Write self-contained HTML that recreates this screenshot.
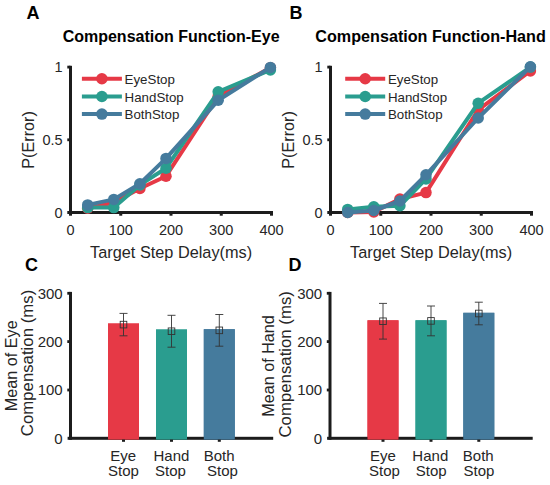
<!DOCTYPE html><html><head><meta charset="utf-8"><style>html,body{margin:0;padding:0;background:#fff;}svg{display:block;}</style></head><body>
<svg width="550" height="485" viewBox="0 0 550 485">
<rect width="550" height="485" fill="#fff"/>
<text x="26.6" y="18.9" font-size="18" font-weight="bold" fill="#000" font-family="Liberation Sans, sans-serif">A</text>
<text x="171.1" y="42.3" font-size="16" font-weight="bold" fill="#000" text-anchor="middle" font-family="Liberation Sans, sans-serif">Compensation Function-Eye</text>
<rect x="69.0" y="65.8" width="3" height="149.89999999999998" fill="#1c1c1c"/>
<rect x="67.3" y="211.0" width="205.7" height="3" fill="#1c1c1c"/>
<rect x="67.3" y="65.69999999999999" width="3.2" height="2.8" fill="#1c1c1c"/>
<rect x="67.3" y="138.4" width="3.2" height="2.8" fill="#1c1c1c"/>
<rect x="119.25" y="212.5" width="3" height="3.2" fill="#1c1c1c"/>
<rect x="169.5" y="212.5" width="3" height="3.2" fill="#1c1c1c"/>
<rect x="219.75" y="212.5" width="3" height="3.2" fill="#1c1c1c"/>
<rect x="270.0" y="212.5" width="3" height="3.2" fill="#1c1c1c"/>
<polyline points="87.7,208.3 113.8,202.6 139.9,188.5 166.0,176.2 218.2,96.2 270.4,67.7" fill="none" stroke="#E63946" stroke-width="4" stroke-linejoin="round"/>
<circle cx="87.7" cy="208.3" r="5.75" fill="#E63946"/>
<circle cx="113.8" cy="202.6" r="5.75" fill="#E63946"/>
<circle cx="139.9" cy="188.5" r="5.75" fill="#E63946"/>
<circle cx="166.0" cy="176.2" r="5.75" fill="#E63946"/>
<circle cx="218.2" cy="96.2" r="5.75" fill="#E63946"/>
<circle cx="270.4" cy="67.7" r="5.75" fill="#E63946"/>
<polyline points="87.7,207.6 113.8,207.6 139.9,184.9 166.0,168.2 218.2,91.8 270.4,69.9" fill="none" stroke="#2A9D8F" stroke-width="4" stroke-linejoin="round"/>
<circle cx="87.7" cy="207.6" r="5.75" fill="#2A9D8F"/>
<circle cx="113.8" cy="207.6" r="5.75" fill="#2A9D8F"/>
<circle cx="139.9" cy="184.9" r="5.75" fill="#2A9D8F"/>
<circle cx="166.0" cy="168.2" r="5.75" fill="#2A9D8F"/>
<circle cx="218.2" cy="91.8" r="5.75" fill="#2A9D8F"/>
<circle cx="270.4" cy="69.9" r="5.75" fill="#2A9D8F"/>
<polyline points="87.7,204.9 113.8,199.4 139.9,183.7 166.0,158.4 218.2,100.3 270.4,67.4" fill="none" stroke="#457B9D" stroke-width="4" stroke-linejoin="round"/>
<circle cx="87.7" cy="204.9" r="5.75" fill="#457B9D"/>
<circle cx="113.8" cy="199.4" r="5.75" fill="#457B9D"/>
<circle cx="139.9" cy="183.7" r="5.75" fill="#457B9D"/>
<circle cx="166.0" cy="158.4" r="5.75" fill="#457B9D"/>
<circle cx="218.2" cy="100.3" r="5.75" fill="#457B9D"/>
<circle cx="270.4" cy="67.4" r="5.75" fill="#457B9D"/>
<line x1="81.9" y1="78.8" x2="121.9" y2="78.8" stroke="#E63946" stroke-width="4"/>
<circle cx="101.9" cy="78.8" r="5.75" fill="#E63946"/>
<text x="124.6" y="84.10" font-size="13.3" fill="#262626" font-family="Liberation Sans, sans-serif">EyeStop</text>
<line x1="81.9" y1="96.44999999999999" x2="121.9" y2="96.44999999999999" stroke="#2A9D8F" stroke-width="4"/>
<circle cx="101.9" cy="96.44999999999999" r="5.75" fill="#2A9D8F"/>
<text x="124.6" y="101.75" font-size="13.3" fill="#262626" font-family="Liberation Sans, sans-serif">HandStop</text>
<line x1="81.9" y1="114.1" x2="121.9" y2="114.1" stroke="#457B9D" stroke-width="4"/>
<circle cx="101.9" cy="114.1" r="5.75" fill="#457B9D"/>
<text x="124.6" y="119.40" font-size="13.3" fill="#262626" font-family="Liberation Sans, sans-serif">BothStop</text>
<text x="62.7" y="217.5" font-size="14.5" fill="#262626" text-anchor="end" font-family="Liberation Sans, sans-serif">0</text>
<text x="62.7" y="144.8" font-size="14.5" fill="#262626" text-anchor="end" font-family="Liberation Sans, sans-serif">0.5</text>
<text x="62.7" y="72.1" font-size="14.5" fill="#262626" text-anchor="end" font-family="Liberation Sans, sans-serif">1</text>
<text x="70.5" y="234.6" font-size="14.5" fill="#262626" text-anchor="middle" font-family="Liberation Sans, sans-serif">0</text>
<text x="120.8" y="234.6" font-size="14.5" fill="#262626" text-anchor="middle" font-family="Liberation Sans, sans-serif">100</text>
<text x="171.0" y="234.6" font-size="14.5" fill="#262626" text-anchor="middle" font-family="Liberation Sans, sans-serif">200</text>
<text x="221.2" y="234.6" font-size="14.5" fill="#262626" text-anchor="middle" font-family="Liberation Sans, sans-serif">300</text>
<text x="271.5" y="234.6" font-size="14.5" fill="#262626" text-anchor="middle" font-family="Liberation Sans, sans-serif">400</text>
<text x="171.1" y="258.1" font-size="16.3" fill="#262626" text-anchor="middle" font-family="Liberation Sans, sans-serif">Target Step Delay(ms)</text>
<text transform="translate(33.6,139.9) rotate(-90)" font-size="16.2" fill="#262626" text-anchor="middle" font-family="Liberation Sans, sans-serif">P(Error)</text>
<text x="289.4" y="18.9" font-size="18" font-weight="bold" fill="#000" font-family="Liberation Sans, sans-serif">B</text>
<text x="430.6" y="42.3" font-size="16.15" font-weight="bold" fill="#000" text-anchor="middle" font-family="Liberation Sans, sans-serif">Compensation Function-Hand</text>
<rect x="329.0" y="65.8" width="3" height="149.89999999999998" fill="#1c1c1c"/>
<rect x="327.3" y="211.0" width="205.7" height="3" fill="#1c1c1c"/>
<rect x="327.3" y="65.69999999999999" width="3.2" height="2.8" fill="#1c1c1c"/>
<rect x="327.3" y="138.4" width="3.2" height="2.8" fill="#1c1c1c"/>
<rect x="379.25" y="212.5" width="3" height="3.2" fill="#1c1c1c"/>
<rect x="429.5" y="212.5" width="3" height="3.2" fill="#1c1c1c"/>
<rect x="479.75" y="212.5" width="3" height="3.2" fill="#1c1c1c"/>
<rect x="530.0" y="212.5" width="3" height="3.2" fill="#1c1c1c"/>
<polyline points="347.7,212.5 373.8,211.9 399.9,199.0 426.0,192.6 478.2,109.8 530.4,71.0" fill="none" stroke="#E63946" stroke-width="4" stroke-linejoin="round"/>
<circle cx="347.7" cy="212.5" r="5.75" fill="#E63946"/>
<circle cx="373.8" cy="211.9" r="5.75" fill="#E63946"/>
<circle cx="399.9" cy="199.0" r="5.75" fill="#E63946"/>
<circle cx="426.0" cy="192.6" r="5.75" fill="#E63946"/>
<circle cx="478.2" cy="109.8" r="5.75" fill="#E63946"/>
<circle cx="530.4" cy="71.0" r="5.75" fill="#E63946"/>
<polyline points="347.7,209.4 373.8,206.7 399.9,205.8 426.0,178.9 478.2,103.2 530.4,67.1" fill="none" stroke="#2A9D8F" stroke-width="4" stroke-linejoin="round"/>
<circle cx="347.7" cy="209.4" r="5.75" fill="#2A9D8F"/>
<circle cx="373.8" cy="206.7" r="5.75" fill="#2A9D8F"/>
<circle cx="399.9" cy="205.8" r="5.75" fill="#2A9D8F"/>
<circle cx="426.0" cy="178.9" r="5.75" fill="#2A9D8F"/>
<circle cx="478.2" cy="103.2" r="5.75" fill="#2A9D8F"/>
<circle cx="530.4" cy="67.1" r="5.75" fill="#2A9D8F"/>
<polyline points="347.7,212.5 373.8,210.5 399.9,201.0 426.0,174.8 478.2,118.0 530.4,66.8" fill="none" stroke="#457B9D" stroke-width="4" stroke-linejoin="round"/>
<circle cx="347.7" cy="212.5" r="5.75" fill="#457B9D"/>
<circle cx="373.8" cy="210.5" r="5.75" fill="#457B9D"/>
<circle cx="399.9" cy="201.0" r="5.75" fill="#457B9D"/>
<circle cx="426.0" cy="174.8" r="5.75" fill="#457B9D"/>
<circle cx="478.2" cy="118.0" r="5.75" fill="#457B9D"/>
<circle cx="530.4" cy="66.8" r="5.75" fill="#457B9D"/>
<line x1="345.20000000000005" y1="78.8" x2="385.20000000000005" y2="78.8" stroke="#E63946" stroke-width="4"/>
<circle cx="365.20000000000005" cy="78.8" r="5.75" fill="#E63946"/>
<text x="387.9" y="84.10" font-size="13.3" fill="#262626" font-family="Liberation Sans, sans-serif">EyeStop</text>
<line x1="345.20000000000005" y1="96.44999999999999" x2="385.20000000000005" y2="96.44999999999999" stroke="#2A9D8F" stroke-width="4"/>
<circle cx="365.20000000000005" cy="96.44999999999999" r="5.75" fill="#2A9D8F"/>
<text x="387.9" y="101.75" font-size="13.3" fill="#262626" font-family="Liberation Sans, sans-serif">HandStop</text>
<line x1="345.20000000000005" y1="114.1" x2="385.20000000000005" y2="114.1" stroke="#457B9D" stroke-width="4"/>
<circle cx="365.20000000000005" cy="114.1" r="5.75" fill="#457B9D"/>
<text x="387.9" y="119.40" font-size="13.3" fill="#262626" font-family="Liberation Sans, sans-serif">BothStop</text>
<text x="322.7" y="217.5" font-size="14.5" fill="#262626" text-anchor="end" font-family="Liberation Sans, sans-serif">0</text>
<text x="322.7" y="144.8" font-size="14.5" fill="#262626" text-anchor="end" font-family="Liberation Sans, sans-serif">0.5</text>
<text x="322.7" y="72.1" font-size="14.5" fill="#262626" text-anchor="end" font-family="Liberation Sans, sans-serif">1</text>
<text x="330.5" y="234.6" font-size="14.5" fill="#262626" text-anchor="middle" font-family="Liberation Sans, sans-serif">0</text>
<text x="380.8" y="234.6" font-size="14.5" fill="#262626" text-anchor="middle" font-family="Liberation Sans, sans-serif">100</text>
<text x="431.0" y="234.6" font-size="14.5" fill="#262626" text-anchor="middle" font-family="Liberation Sans, sans-serif">200</text>
<text x="481.2" y="234.6" font-size="14.5" fill="#262626" text-anchor="middle" font-family="Liberation Sans, sans-serif">300</text>
<text x="531.5" y="234.6" font-size="14.5" fill="#262626" text-anchor="middle" font-family="Liberation Sans, sans-serif">400</text>
<text x="431.1" y="258.1" font-size="16.3" fill="#262626" text-anchor="middle" font-family="Liberation Sans, sans-serif">Target Step Delay(ms)</text>
<text transform="translate(293.6,139.9) rotate(-90)" font-size="16.2" fill="#262626" text-anchor="middle" font-family="Liberation Sans, sans-serif">P(Error)</text>
<text x="25.0" y="270.9" font-size="18" font-weight="bold" fill="#000" font-family="Liberation Sans, sans-serif">C</text>
<rect x="108.0" y="323.5" width="31" height="116.10000000000002" fill="#E63946"/>
<rect x="156.0" y="329.5" width="31" height="110.10000000000002" fill="#2A9D8F"/>
<rect x="203.8" y="329.2" width="31" height="110.40000000000003" fill="#457B9D"/>
<rect x="69.0" y="291.90000000000003" width="3" height="147.89999999999998" fill="#1c1c1c"/>
<rect x="67.6" y="436.8" width="205.6" height="3" fill="#1c1c1c"/>
<rect x="67.3" y="388.6" width="3.2" height="2.8" fill="#1c1c1c"/>
<rect x="67.3" y="340.2" width="3.2" height="2.8" fill="#1c1c1c"/>
<rect x="67.3" y="291.9" width="3.2" height="2.8" fill="#1c1c1c"/>
<rect x="108.0" y="323.5" width="31" height="116.10000000000002" fill="#E63946"/>
<rect x="122.0" y="439.6" width="3" height="2.2" fill="#1c1c1c"/>
<rect x="156.0" y="329.5" width="31" height="110.10000000000002" fill="#2A9D8F"/>
<rect x="170.0" y="439.6" width="3" height="2.2" fill="#1c1c1c"/>
<rect x="203.8" y="329.2" width="31" height="110.40000000000003" fill="#457B9D"/>
<rect x="217.8" y="439.6" width="3" height="2.2" fill="#1c1c1c"/>
<g stroke="#333" stroke-width="0.9" fill="none"><line x1="123.5" y1="313.4" x2="123.5" y2="335.8"/><line x1="119.5" y1="313.4" x2="127.5" y2="313.4"/><line x1="119.5" y1="335.8" x2="127.5" y2="335.8"/><rect x="120.2" y="321.3" width="6.6" height="6.6"/></g>
<g stroke="#333" stroke-width="0.9" fill="none"><line x1="171.5" y1="315.3" x2="171.5" y2="347.2"/><line x1="167.5" y1="315.3" x2="175.5" y2="315.3"/><line x1="167.5" y1="347.2" x2="175.5" y2="347.2"/><rect x="168.2" y="327.95" width="6.6" height="6.6"/></g>
<g stroke="#333" stroke-width="0.9" fill="none"><line x1="219.3" y1="314.5" x2="219.3" y2="346.2"/><line x1="215.3" y1="314.5" x2="223.3" y2="314.5"/><line x1="215.3" y1="346.2" x2="223.3" y2="346.2"/><rect x="216.0" y="327.05" width="6.6" height="6.6"/></g>
<text x="62.7" y="443.6" font-size="15" fill="#262626" text-anchor="end" font-family="Liberation Sans, sans-serif">0</text>
<text x="62.7" y="395.3" font-size="15" fill="#262626" text-anchor="end" font-family="Liberation Sans, sans-serif">100</text>
<text x="62.7" y="346.9" font-size="15" fill="#262626" text-anchor="end" font-family="Liberation Sans, sans-serif">200</text>
<text x="62.7" y="298.6" font-size="15" fill="#262626" text-anchor="end" font-family="Liberation Sans, sans-serif">300</text>
<text x="123.3" y="461" font-size="15" fill="#262626" text-anchor="middle" font-family="Liberation Sans, sans-serif">Eye</text>
<text x="123.4" y="476.1" font-size="15" fill="#262626" text-anchor="middle" font-family="Liberation Sans, sans-serif">Stop</text>
<text x="171.4" y="461" font-size="15" fill="#262626" text-anchor="middle" font-family="Liberation Sans, sans-serif">Hand</text>
<text x="170.5" y="476.1" font-size="15" fill="#262626" text-anchor="middle" font-family="Liberation Sans, sans-serif">Stop</text>
<text x="219.1" y="461" font-size="15" fill="#262626" text-anchor="middle" font-family="Liberation Sans, sans-serif">Both</text>
<text x="222.4" y="476.1" font-size="15" fill="#262626" text-anchor="middle" font-family="Liberation Sans, sans-serif">Stop</text>
<text transform="translate(16.8,365.8) rotate(-90)" font-size="16.2" fill="#262626" text-anchor="middle" font-family="Liberation Sans, sans-serif">Mean of Eye</text>
<text transform="translate(32.8,363) rotate(-90)" font-size="16.8" fill="#262626" text-anchor="middle" font-family="Liberation Sans, sans-serif">Compensation (ms)</text>
<text x="288.4" y="270.9" font-size="18" font-weight="bold" fill="#000" font-family="Liberation Sans, sans-serif">D</text>
<rect x="367.5" y="320.3" width="31" height="119.30000000000001" fill="#E63946"/>
<rect x="415.5" y="320.3" width="31" height="119.30000000000001" fill="#2A9D8F"/>
<rect x="463.3" y="312.8" width="31" height="126.80000000000001" fill="#457B9D"/>
<rect x="328.5" y="291.90000000000003" width="3" height="147.89999999999998" fill="#1c1c1c"/>
<rect x="327.1" y="436.8" width="205.60000000000002" height="3" fill="#1c1c1c"/>
<rect x="326.8" y="388.6" width="3.2" height="2.8" fill="#1c1c1c"/>
<rect x="326.8" y="340.2" width="3.2" height="2.8" fill="#1c1c1c"/>
<rect x="326.8" y="291.9" width="3.2" height="2.8" fill="#1c1c1c"/>
<rect x="367.5" y="320.3" width="31" height="119.30000000000001" fill="#E63946"/>
<rect x="381.5" y="439.6" width="3" height="2.2" fill="#1c1c1c"/>
<rect x="415.5" y="320.3" width="31" height="119.30000000000001" fill="#2A9D8F"/>
<rect x="429.5" y="439.6" width="3" height="2.2" fill="#1c1c1c"/>
<rect x="463.3" y="312.8" width="31" height="126.80000000000001" fill="#457B9D"/>
<rect x="477.3" y="439.6" width="3" height="2.2" fill="#1c1c1c"/>
<g stroke="#333" stroke-width="0.9" fill="none"><line x1="383.0" y1="303.4" x2="383.0" y2="339.1"/><line x1="379.0" y1="303.4" x2="387.0" y2="303.4"/><line x1="379.0" y1="339.1" x2="387.0" y2="339.1"/><rect x="379.7" y="317.95" width="6.6" height="6.6"/></g>
<g stroke="#333" stroke-width="0.9" fill="none"><line x1="431.0" y1="306" x2="431.0" y2="335.8"/><line x1="427.0" y1="306" x2="435.0" y2="306"/><line x1="427.0" y1="335.8" x2="435.0" y2="335.8"/><rect x="427.7" y="317.59999999999997" width="6.6" height="6.6"/></g>
<g stroke="#333" stroke-width="0.9" fill="none"><line x1="478.8" y1="302.2" x2="478.8" y2="324.8"/><line x1="474.8" y1="302.2" x2="482.8" y2="302.2"/><line x1="474.8" y1="324.8" x2="482.8" y2="324.8"/><rect x="475.5" y="310.2" width="6.6" height="6.6"/></g>
<text x="322.2" y="443.6" font-size="15" fill="#262626" text-anchor="end" font-family="Liberation Sans, sans-serif">0</text>
<text x="322.2" y="395.3" font-size="15" fill="#262626" text-anchor="end" font-family="Liberation Sans, sans-serif">100</text>
<text x="322.2" y="346.9" font-size="15" fill="#262626" text-anchor="end" font-family="Liberation Sans, sans-serif">200</text>
<text x="322.2" y="298.6" font-size="15" fill="#262626" text-anchor="end" font-family="Liberation Sans, sans-serif">300</text>
<text x="383.0" y="461" font-size="15" fill="#262626" text-anchor="middle" font-family="Liberation Sans, sans-serif">Eye</text>
<text x="384.5" y="476.1" font-size="15" fill="#262626" text-anchor="middle" font-family="Liberation Sans, sans-serif">Stop</text>
<text x="430.3" y="461" font-size="15" fill="#262626" text-anchor="middle" font-family="Liberation Sans, sans-serif">Hand</text>
<text x="431.2" y="476.1" font-size="15" fill="#262626" text-anchor="middle" font-family="Liberation Sans, sans-serif">Stop</text>
<text x="478.3" y="461" font-size="15" fill="#262626" text-anchor="middle" font-family="Liberation Sans, sans-serif">Both</text>
<text x="479.0" y="476.1" font-size="15" fill="#262626" text-anchor="middle" font-family="Liberation Sans, sans-serif">Stop</text>
<text transform="translate(274.4,366) rotate(-90)" font-size="16.2" fill="#262626" text-anchor="middle" font-family="Liberation Sans, sans-serif">Mean of Hand</text>
<text transform="translate(290.8,364.3) rotate(-90)" font-size="16.8" fill="#262626" text-anchor="middle" font-family="Liberation Sans, sans-serif">Compensation (ms)</text>
</svg></body></html>
